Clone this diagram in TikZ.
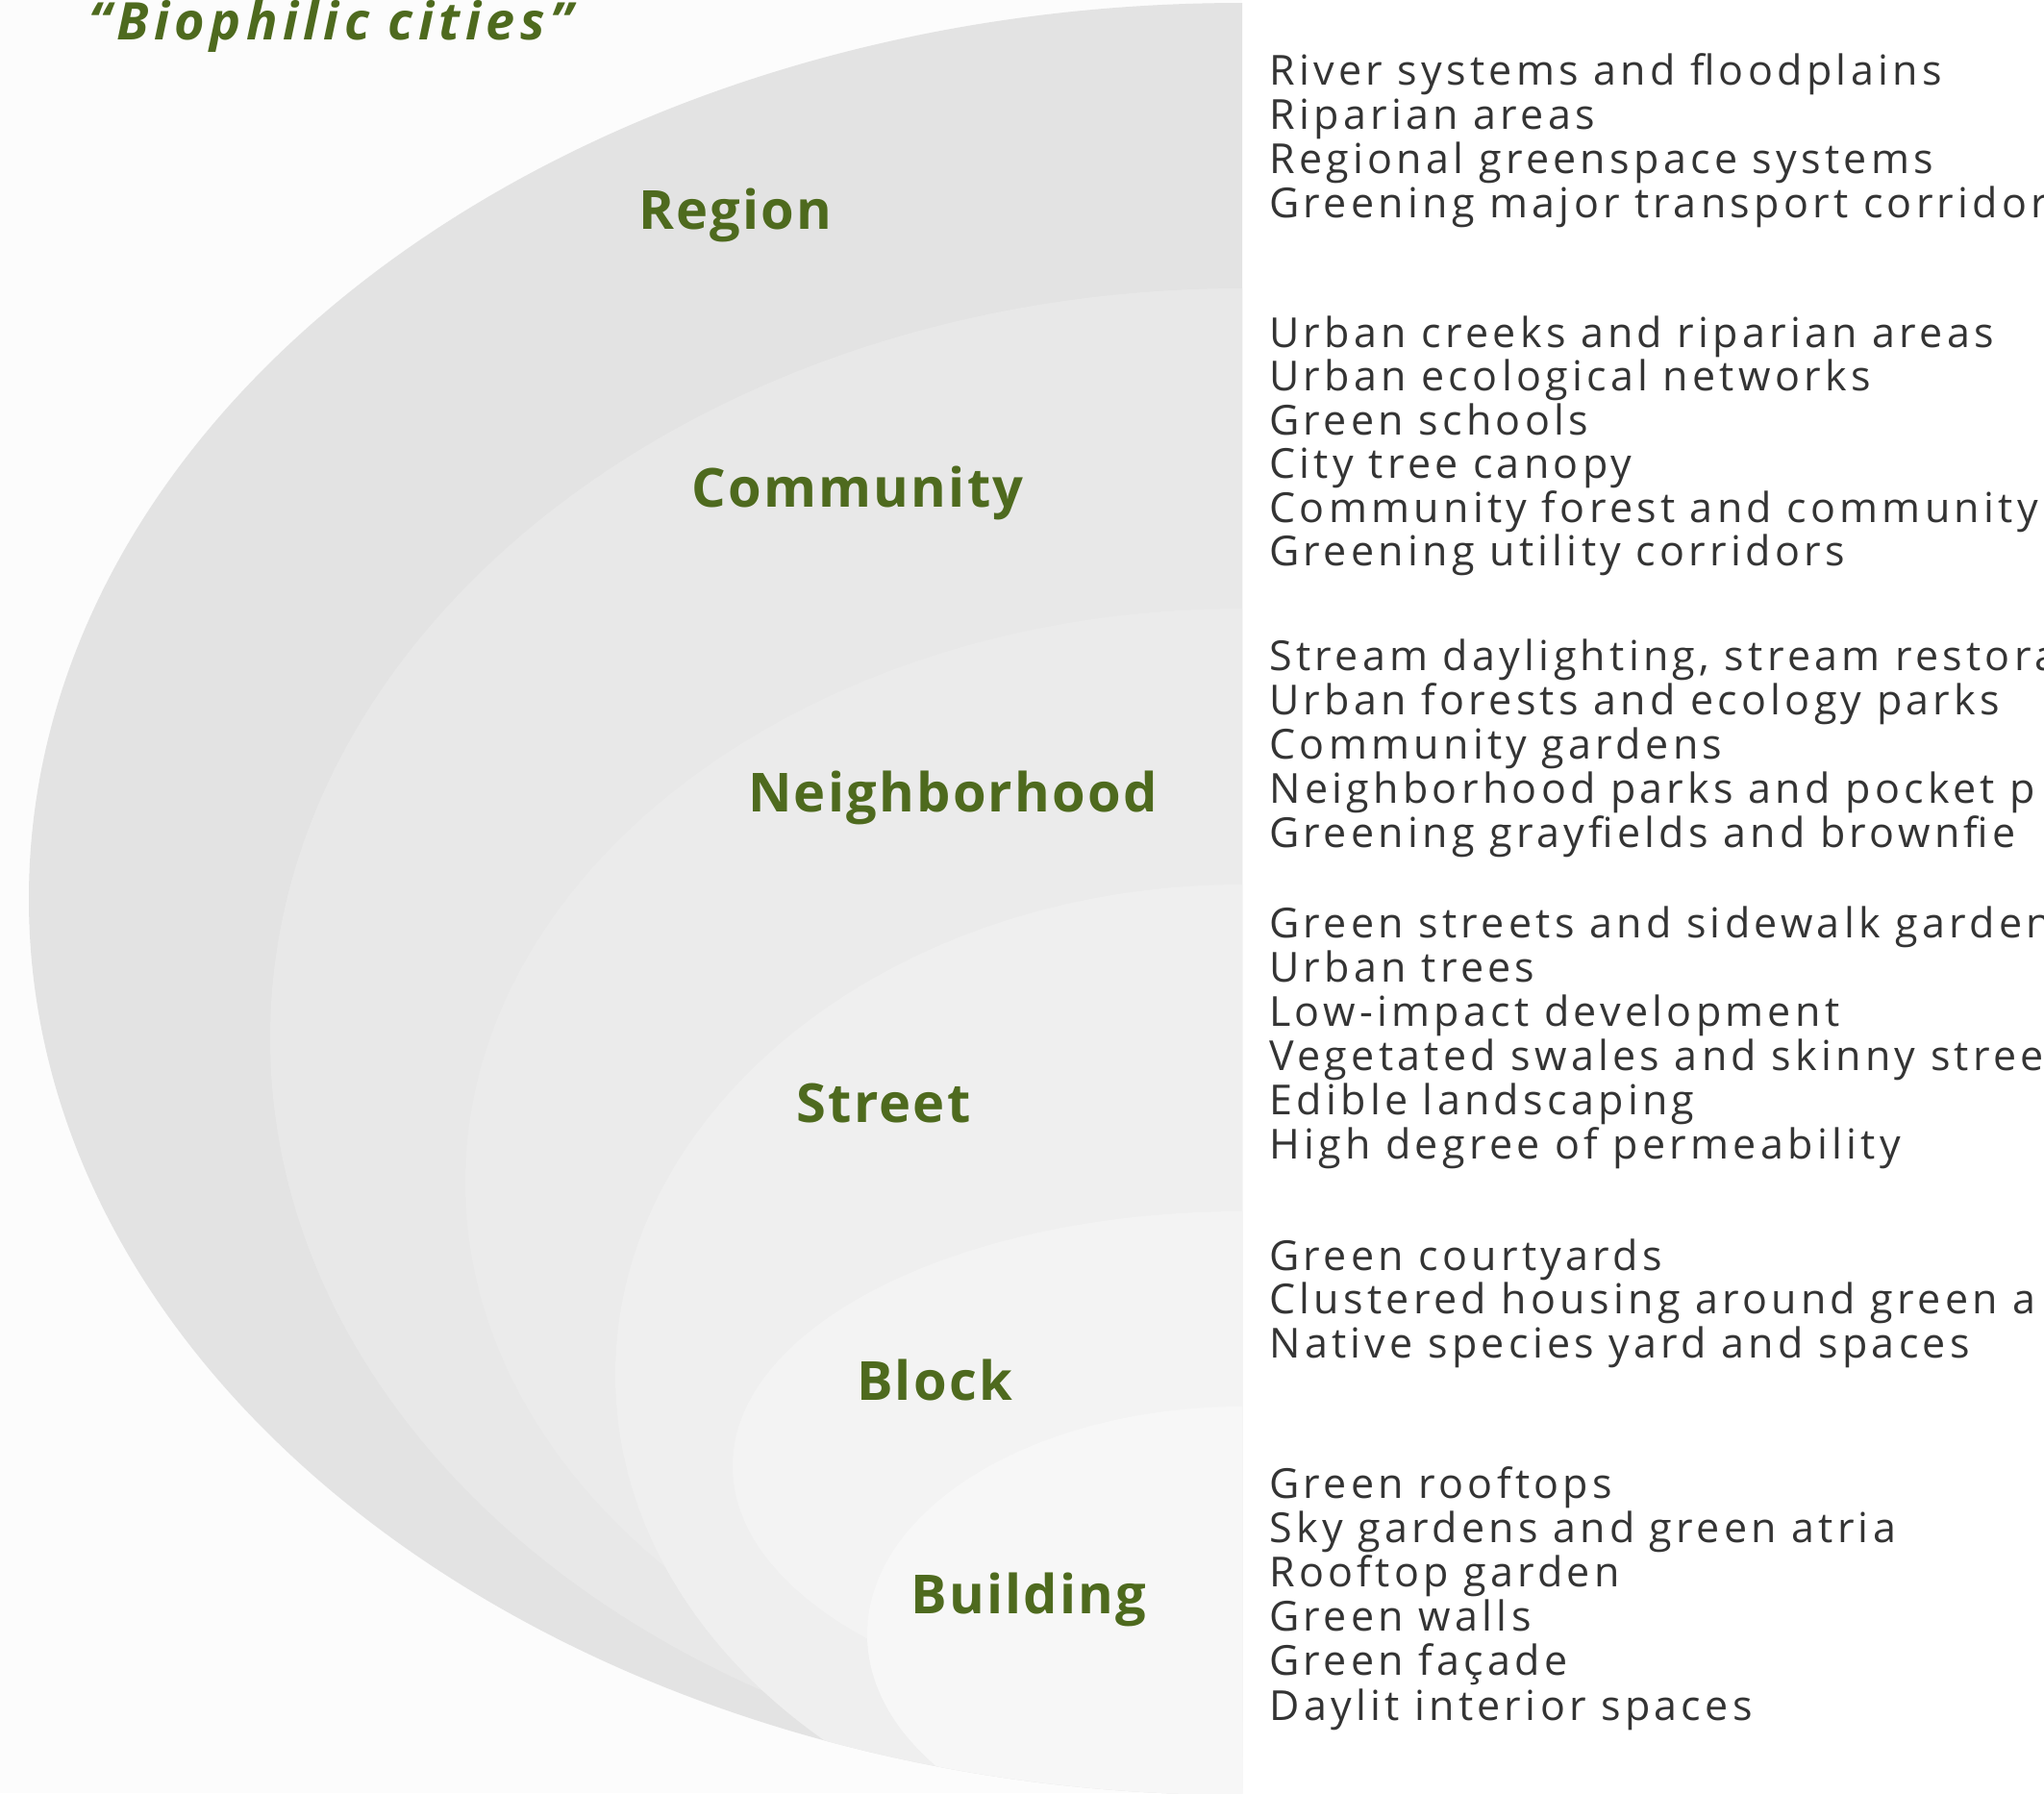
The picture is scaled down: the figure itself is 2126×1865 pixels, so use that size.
\documentclass[tikz,border=0pt]{standalone}
\usepackage{fontspec}
\setmainfont{Open Sans}
\definecolor{leaf}{RGB}{78,106,30}
\definecolor{ink}{RGB}{52,52,52}
\definecolor{paper}{RGB}{252,252,252}

\tikzset{
  scalelabel/.style={text=leaf, inner sep=0pt,
    font=\fontsize{28}{30}\selectfont\bfseries\addfontfeature{LetterSpace=4}},
  item/.style={text=ink, anchor=base west, inner sep=0pt,
    font=\fontsize{21.5}{23}\selectfont\addfontfeature{LetterSpace=10}},
}

\begin{document}
\begin{tikzpicture}[x=0.5pt, y=-0.5pt]
    \useasboundingbox (0,0) rectangle (2126,1865);
    \clip (0,0) rectangle (2126,1865);
    \fill[paper] (0,0) rectangle (1292,1865);
    \fill[white] (1292,0) rectangle (2126,1865);

    % nested half ellipses, outer to inner, all kept inside the outer one
    \begin{scope}
      \clip (0,0) rectangle (1292,1865);
      \clip (1292,935) ellipse [x radius=1262, y radius=932];
      \foreach \cy/\rx/\ry/\g in {935/1262/932/227, 1080/1011/780/232, 1230/808/597/235,
                                  1430/652/510/239, 1525/530/265/243, 1700/390/237/247}
        \fill[fill={rgb,255:red,\g;green,\g;blue,\g}] (1292,\cy) ellipse [x radius=\rx, y radius=\ry];
    \end{scope}

    \node[anchor=base west, text=leaf, inner sep=0pt,
          font=\fontsize{27}{28}\selectfont\bfseries\itshape\addfontfeature{LetterSpace=10}]
      (title) at (92,41) {“Biophilic cities”};

    % scale labels
    \node[scalelabel] (region)   at (765,224)  {Region};
    \node[scalelabel] (community) at (892,513) {Community};
    \node[scalelabel] (neighb)   at (991,830)  {Neighborhood};
    \node[scalelabel] (street)   at (919,1147) {Street};
    \node[scalelabel] (block)    at (972,1435) {Block};
    \node[scalelabel] (building) at (1070,1664) {Building};

    % lists
    \foreach \t [count=\i] in {River systems and floodplains, Riparian areas,
        Regional greenspace systems, Greening major transport corridor}
      \node[item] (reg-\i) at (1320,{88+46*(\i-1)}) {\t};

    \foreach \t [count=\i] in {Urban creeks and riparian areas, Urban ecological networks,
        Green schools, City tree canopy, Community forest and community,
        Greening utility corridors}
      \node[item] (com-\i) at (1320,{361+45.5*(\i-1)}) {\t};

    \foreach \t [count=\i] in {{Stream daylighting, stream restora}, Urban forests and ecology parks,
        Community gardens, Neighborhood parks and pocket p, Greening grayfields and brownfie}
      \node[item] (nei-\i) at (1320,{697+46*(\i-1)}) {\t};

    \foreach \t [count=\i] in {Green streets and sidewalk garden, Urban trees,
        Low-impact development, Vegetated swales and skinny stree,
        Edible landscaping, High degree of permeability}
      \node[item] (str-\i) at (1320,{975+46*(\i-1)}) {\t};

    \foreach \t [count=\i] in {Green courtyards, Clustered housing around green a,
        Native species yard and spaces}
      \node[item] (blo-\i) at (1320,{1321+45.5*(\i-1)}) {\t};

    \foreach \t [count=\i] in {Green rooftops, Sky gardens and green atria, Rooftop garden,
        Green walls, Green façade, Daylit interior spaces}
      \node[item] (bui-\i) at (1320,{1558+46.2*(\i-1)}) {\t};
\end{tikzpicture}
\end{document}
